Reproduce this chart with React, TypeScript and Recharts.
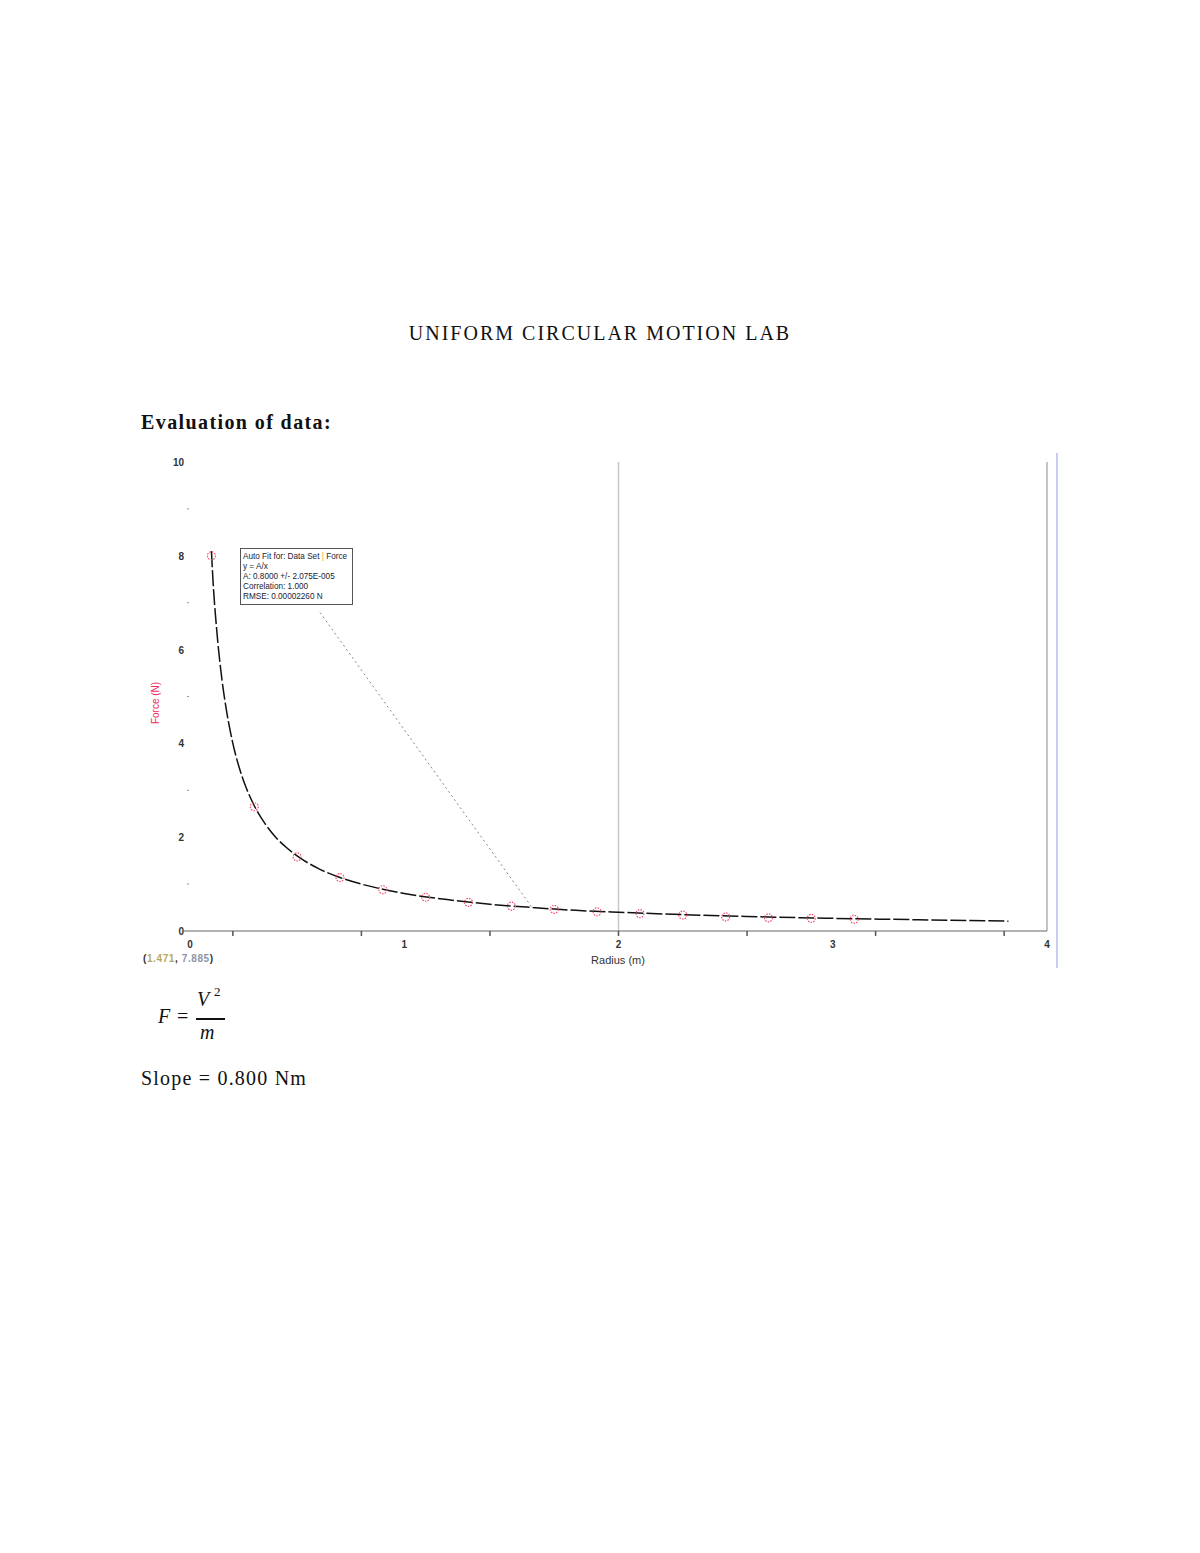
import React from "react";
import {
  ComposedChart,
  Line,
  Scatter,
  XAxis,
  YAxis,
  ReferenceLine,
} from "recharts";

// Measured data points (Radius in m, Force in N)
const radius = [0.1, 0.3, 0.5, 0.7, 0.9, 1.1, 1.3, 1.5, 1.7, 1.9, 2.1, 2.3, 2.5, 2.7, 2.9, 3.1];
const force = [8.0, 2.65, 1.58, 1.14, 0.88, 0.72, 0.61, 0.53, 0.46, 0.41, 0.37, 0.34, 0.3, 0.28, 0.27, 0.25];

// Auto-fit curve (y = A/x)
const fitRadius = [0.1, 0.11, 0.12, 0.13, 0.15, 0.17, 0.2, 0.23, 0.26, 0.3, 0.35, 0.4, 0.45, 0.5, 0.6, 0.7, 0.8, 0.9, 1.0, 1.2, 1.4, 1.6, 1.8, 2.0, 2.3, 2.6, 3.0, 3.4, 3.82];
const fitForce = [8.1, 7.27, 6.67, 6.15, 5.33, 4.71, 4.0, 3.48, 3.08, 2.67, 2.29, 2.0, 1.78, 1.6, 1.33, 1.14, 1.0, 0.89, 0.8, 0.67, 0.57, 0.5, 0.44, 0.4, 0.35, 0.31, 0.27, 0.24, 0.21];

const xTickMarks = [0.2, 0.8, 1.4, 2.0, 2.6, 3.2, 3.8];
const xTickLabels = [0, 1, 2, 3, 4];
const xTicksAll = [0, 0.2, 0.8, 1, 1.4, 2, 2.6, 3, 3.2, 3.8, 4];
const yTicks = [0, 1, 2, 3, 4, 5, 6, 7, 8, 9, 10];

const fitLabelLines = ["y = A/x", "A: 0.8000 +/- 2.075E-005", "Correlation: 1.000", "RMSE: 0.00002260 N"];

const pointData = radius.map((r, i) => ({ x: r, y: force[i] }));
const fitData = fitRadius.map((r, i) => ({ x: r, y: fitForce[i] }));

const chartFont = "'Liberation Sans', Arial, sans-serif";

const CircleShape = (props: any) => {
  const { cx, cy } = props;
  if (cx == null || cy == null) return null;
  return (
    <circle cx={cx} cy={cy} r={4} fill="none" stroke="#f0506e" strokeWidth={1.2} strokeDasharray="1.5 1.2" />
  );
};

const YTick = (props: any) => {
  const { x, y, payload } = props;
  const v = payload.value;
  if (v % 2 === 0) {
    return (
      <g>
        <text x={x + 2} y={y} dy={4} textAnchor="end" fontSize={10} fontFamily={chartFont} fill="#333" fontWeight="bold">
          {v}
        </text>
        {v === 0 ? <line x1={x + 2} x2={x + 8} y1={y} y2={y} stroke="#666" /> : null}
      </g>
    );
  }
  return <line x1={x + 5} x2={x + 7} y1={y} y2={y} stroke="#999" strokeWidth={1} />;
};

const XTick = (props: any) => {
  const { x, y, payload } = props;
  const v = payload.value;
  const axisY = y - 8;
  const isMark = xTickMarks.some((m) => Math.abs(m - v) < 1e-6);
  const isLabel = xTickLabels.some((m) => Math.abs(m - v) < 1e-6);
  return (
    <g>
      {isMark ? <line x1={x} x2={x} y1={axisY} y2={axisY + 5} stroke="#555" strokeWidth={1.5} /> : null}
      {isLabel ? (
        <text x={x} y={axisY + 17} textAnchor="middle" fontSize={10} fontFamily={chartFont} fill="#333" fontWeight="bold">
          {v}
        </text>
      ) : null}
    </g>
  );
};

export default function App() {
  return (
    <div
      style={{
        position: "absolute",
        left: 0,
        top: 0,
        width: 1200,
        height: 1553,
        background: "#fff",
        fontFamily: "'Liberation Serif', 'Times New Roman', serif",
        color: "#111",
      }}
    >
      <div style={{ position: "absolute", left: 0, width: 1200, top: 322, textAlign: "center", fontSize: 20, letterSpacing: 2 }}>
        UNIFORM CIRCULAR MOTION LAB
      </div>
      <div style={{ position: "absolute", left: 141, top: 411, fontSize: 20, fontWeight: "bold", letterSpacing: 1.4 }}>
        Evaluation of data:
      </div>

      {/* chart */}
      <div style={{ position: "absolute", left: 140, top: 440 }}>
        <ComposedChart width={930} height={540} margin={{ top: 22, right: 23, bottom: 19, left: 10 }}>
          <XAxis
            type="number"
            dataKey="x"
            domain={[0, 4]}
            ticks={xTicksAll}
            interval={0}
            tick={<XTick />}
            tickLine={false}
            axisLine={{ stroke: "#666", strokeWidth: 1 }}
            height={30}
            allowDataOverflow
          />
          <YAxis
            type="number"
            domain={[0, 10]}
            ticks={yTicks}
            tick={<YTick />}
            tickLine={false}
            axisLine={false}
            width={40}
            interval={0}
          />
          <ReferenceLine x={2} stroke="#c8c8c8" strokeWidth={1.5} />
          <ReferenceLine x={4} stroke="#b0b0b0" strokeWidth={1.5} />
          <ReferenceLine
            segment={[
              { x: 0.607, y: 6.79 },
              { x: 1.598, y: 0.49 },
            ]}
            stroke="#888"
            strokeWidth={1}
            strokeDasharray="2 3"
          />
          <Line
            data={fitData}
            dataKey="y"
            type="monotone"
            stroke="#111"
            strokeWidth={1.5}
            strokeDasharray="16 3"
            dot={false}
            activeDot={false}
            isAnimationActive={false}
          />
          <Scatter data={pointData} dataKey="y" shape={<CircleShape />} isAnimationActive={false} />
        </ComposedChart>
      </div>

      <div
        style={{
          position: "absolute",
          left: 0,
          width: 1236,
          top: 954,
          textAlign: "center",
          fontSize: 11,
          fontFamily: chartFont,
          color: "#333",
        }}
      >
        Radius (m)
      </div>
      <div
        style={{
          position: "absolute",
          left: 143,
          top: 953,
          fontSize: 10,
          fontFamily: chartFont,
          color: "#333",
          fontWeight: "bold",
          letterSpacing: 0.6,
        }}
      >
        (<span style={{ color: "#b9a95a" }}>1.471</span>, <span style={{ color: "#8a94a8" }}>7.885</span>)
      </div>
      <div
        style={{
          position: "absolute",
          left: 155,
          top: 703,
          transform: "translate(-50%, -50%) rotate(-90deg)",
          fontSize: 10,
          fontFamily: chartFont,
          color: "#ef2a5d",
          whiteSpace: "nowrap",
        }}
      >
        Force (N)
      </div>

      {/* fit annotation box */}
      <div
        style={{
          position: "absolute",
          left: 240,
          top: 548,
          width: 113,
          height: 57,
          border: "1.5px solid #555",
          background: "#fff",
          fontFamily: chartFont,
          fontSize: 8.2,
          lineHeight: "10px",
          color: "#223",
          padding: "3px 0 0 2px",
          boxSizing: "border-box",
          whiteSpace: "nowrap",
          overflow: "hidden",
        }}
      >
        <div>
          Auto Fit for: Data Set <span style={{ color: "#e8a030" }}>|</span> Force
        </div>
        {fitLabelLines.map((t) => (
          <div key={t}>{t}</div>
        ))}
      </div>

      {/* blue side bar */}
      <div style={{ position: "absolute", left: 1056, top: 453, width: 2, height: 515, background: "#c9cdf6" }} />

      {/* formula */}
      <div style={{ position: "absolute", left: 158, top: 1005, fontSize: 20, fontStyle: "italic" }}>F</div>
      <div style={{ position: "absolute", left: 177, top: 1005, fontSize: 20 }}>=</div>
      <div style={{ position: "absolute", left: 197, top: 988, fontSize: 20, fontStyle: "italic" }}>V</div>
      <div style={{ position: "absolute", left: 214, top: 984, fontSize: 13 }}>2</div>
      <div style={{ position: "absolute", left: 196, top: 1018, width: 29, height: 2, background: "#111" }} />
      <div style={{ position: "absolute", left: 200, top: 1021, fontSize: 20, fontStyle: "italic" }}>m</div>

      <div style={{ position: "absolute", left: 141, top: 1067, fontSize: 20, letterSpacing: 1.2 }}>Slope = 0.800 Nm</div>
    </div>
  );
}
